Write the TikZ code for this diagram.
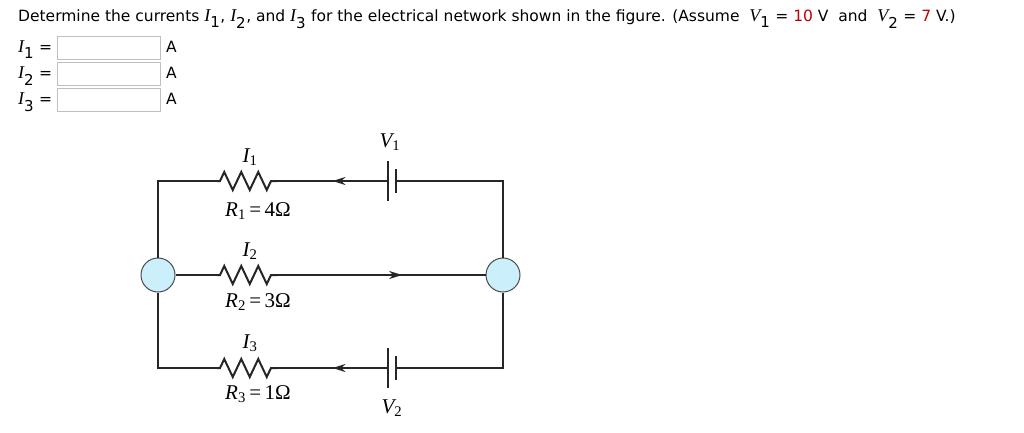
\documentclass[tikz,border=0pt]{standalone}
\usepackage{fontspec}
\setmainfont{DejaVu Sans}
\newfontfamily\ser{Liberation Serif}
\usetikzlibrary{decorations.pathmorphing,decorations.markings,arrows.meta,calc}
\newcommand{\cur}[2]{{\ser\itshape\fontsize{18}{18}\selectfont #1}\textsubscript{\fontsize{15}{15}\selectfont #2}}
\begin{document}
\begin{tikzpicture}[x=1pt,y=-1pt,
  wire/.style={line width=2pt,color=black!85},
  res/.style={wire,decorate,decoration={zigzag,segment length=17pt,amplitude=9pt,pre length=3pt,post length=3pt}},
  box/.style={draw=black!25,minimum width=103pt,minimum height=23pt,inner sep=0pt},
  jn/.style={circle,draw=black!70,line width=1pt,fill=cyan!20,minimum size=34pt,inner sep=0pt},
  lab/.style={font=\ser\fontsize{21}{21}\selectfont\itshape,inner sep=0pt},
  val/.style={font=\ser\fontsize{21}{21}\selectfont,inner sep=0pt},
  txt/.style={font=\fontsize{15.5}{18}\selectfont,inner sep=0pt,anchor=base west},
  arrl/.style={postaction={decorate},decoration={markings,mark=at position #1 with {\arrow{Stealth[length=13pt,width=8pt]}}}}
]
\useasboundingbox[fill=white] (0,0) rectangle (1024,433);
\node[txt] (title) at (18,22) {Determine the currents \cur{I}{1}, \cur{I}{2}, and \cur{I}{3} for the electrical network shown in the figure. (Assume \ \cur{V}{1} = {\color{red!75!black}10} V \ and \ \cur{V}{2} = {\color{red!75!black}7} V.)};
\foreach \i/\y in {1/48,2/74,3/100}{
  \node[txt] (l\i) at (18,\y+5) {\cur{I}{\i} =};
  \node[box] (b\i) at (108.5,\y) {};
  \node[txt] (a\i) at (166,\y+5) {A};
}
% circuit
\node[jn] (L) at (158,275) {};
\node[jn] (R) at (503,275) {};
\coordinate (tl) at (158,181); \coordinate (tr) at (503,181);
\coordinate (bl) at (158,368); \coordinate (br) at (503,368);
\coordinate (r1a) at (217,181); \coordinate (r1b) at (277,181);
\coordinate (r2a) at (217,275); \coordinate (r2b) at (277,275);
\coordinate (r3a) at (217,368); \coordinate (r3b) at (277,368);
\coordinate (v1a) at (388,181); \coordinate (v1b) at (396,181);
\coordinate (v2a) at (388,368); \coordinate (v2b) at (396,368);
\draw[wire] (L) -- (tl) -- (r1a);
\draw[res] (r1a) -- (r1b);
\draw[wire,arrl=0.5] (v1a) -- (r1b);
\draw[wire] (v1b) -- (tr) -- (R);
\draw[wire] (L) -- (r2a);
\draw[res] (r2a) -- (r2b);
\draw[wire,arrl=0.6] (r2b) -- (R);
\draw[wire] (L) -- (bl) -- (r3a);
\draw[res] (r3a) -- (r3b);
\draw[wire,arrl=0.5] (v2a) -- (r3b);
\draw[wire] (v2b) -- (br) -- (R);
\foreach \v in {v1,v2}{
  \draw[wire] ($(\v a)+(0,-20)$) -- ($(\v a)+(0,20)$);
  \draw[wire] ($(\v b)+(0,-12)$) -- ($(\v b)+(0,12)$);
}
\node[lab] (i1) at (250,157) {I\textsubscript{\upshape 1}};
\node[val] (R1) at (258,211) {\textit{R}\textsubscript{1}$\,$=$\,$4Ω};
\node[lab] (i2) at (250,251) {I\textsubscript{\upshape 2}};
\node[val] (R2) at (258,302) {\textit{R}\textsubscript{2}$\,$=$\,$3Ω};
\node[lab] (i3) at (250,343) {I\textsubscript{\upshape 3}};
\node[val] (R3) at (258,394) {\textit{R}\textsubscript{3}$\,$=$\,$1Ω};
\node[lab] (V1) at (390,142) {V\textsubscript{\upshape 1}};
\node[lab] (V2) at (392,408) {V\textsubscript{\upshape 2}};
\end{tikzpicture}
\end{document}
